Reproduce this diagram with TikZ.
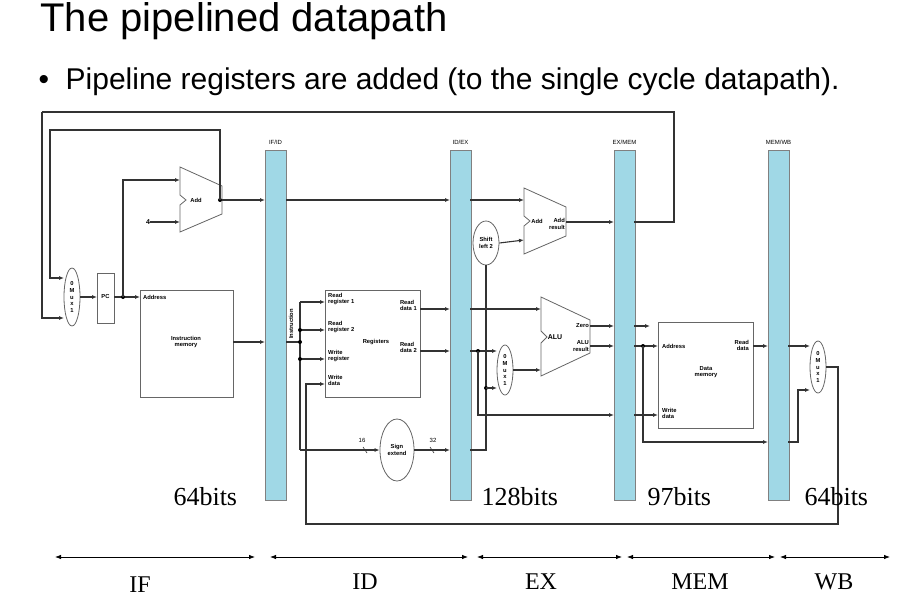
\documentclass[tikz,border=0pt]{standalone}
\usepackage{fontspec}
\setmainfont{Liberation Serif}
\setsansfont{Liberation Sans}
\usetikzlibrary{shapes.geometric,arrows.meta}
\definecolor{regblue}{RGB}{160,216,230}
\begin{document}
\begin{tikzpicture}[x=1pt,y=-1pt,
  w/.style={line width=1.1pt,draw=black!80},
  a/.style={w,-{Latex[length=5pt,width=4pt]}},
  reg/.style={draw=black!50,fill=regblue,line width=0.6pt},
  box/.style={draw=black!60,line width=0.8pt},
  tl/.style={font=\sffamily\bfseries\fontsize{5.8}{6.2}\selectfont,inner sep=0pt,align=left},
  big/.style={font=\fontsize{26}{26}\selectfont},
  dot/.style={circle,fill=black,inner sep=0pt,minimum size=4pt},
  ph/.style={line width=0.8pt,{Latex[length=6pt]}-{Latex[length=6pt]}}]
\useasboundingbox (0,0) rectangle (902,607);
% title
\node[anchor=west,font=\sffamily\fontsize{40}{40}\selectfont] (title) at (37,21) {The pipelined datapath};
\node[anchor=west,font=\sffamily\fontsize{30}{30}\selectfont] (bul) at (35,82) {•\ \ Pipeline registers are added (to the single cycle datapath).};
% pipeline registers
\foreach \n/\x/\l in {ifid/265/IF{/}ID,idex/450/ID{/}EX,exmem/614/EX{/}MEM,memwb/768/MEM{/}WB}{
  \draw[reg] (\x,150) rectangle (\x+21,500);
  \node[tl,font=\sffamily\fontsize{6}{6}\selectfont] (\n) at (\x+10.5,142) {\l};
}
% IF stage
\node[ellipse,box,minimum width=16pt,minimum height=58pt,inner sep=0pt] (mux1) at (72,297) {};
\node[tl,align=center] (mux1t) at (72,297) {0\\[1pt]M\\u\\x\\[1pt]1};
\node[box,minimum width=17pt,minimum height=50pt,inner sep=0pt] (pc) at (105.5,298) {};
\node[tl] (pct) at (105.5,297) {PC};
\draw[box,fill=white] (180,167) -- (222,186) -- (222,214) -- (180,232) -- (180,205) -- (186,200) -- (180,195) -- cycle;
\node[tl] (addt) at (196,200) {Add};
\node[tl,font=\sffamily\bfseries\fontsize{7}{7}\selectfont] (four) at (148,222) {4};
\node[box,minimum width=93pt,minimum height=107pt,inner sep=0pt] (imem) at (186.5,343.5) {};
\node[tl,align=center] (imemt) at (186,342) {Instruction\\memory};
\node[tl,anchor=west] (addr1) at (143,297) {Address};
\coordinate (pcj) at (123,297);
\draw[a] (mux1.east) -- (97,297);
\draw[a] (114,297) -- (140,297);
\node[dot] (d1) at (pcj) {};
\draw[a] (pcj) -- (123,180) -- (180,180);
\draw[a] (four.east) -- (180,222);
\node[dot] (d2) at (220,200) {};
\draw[a] (222,200) -- (265,200);
\draw[a] (220,200) -- (220,130) -- (50,130) -- (50,278) -- (64,278);
\draw[w] (42,112) -- (674,112) -- (674,222) -- (634,222);
\draw[a] (42,112) -- (42,318) -- (64,318);
\draw[a] (233,342) -- (265,342);
% ID stage
\draw[a] (286,200) -- (450,200);
\node[box,minimum width=95pt,minimum height=107pt,inner sep=0pt] (regs) at (372.5,343.5) {};
\node[tl,anchor=north west] (r1) at (328,293) {Read\\register 1};
\node[tl,anchor=north west] (r2) at (328,321) {Read\\register 2};
\node[tl,anchor=north west] (wr) at (328,350) {Write\\register};
\node[tl,anchor=north west] (wd) at (328,375) {Write\\data};
\node[tl] (regt) at (376,342) {Registers};
\node[tl,anchor=north east] (rd1) at (417,300) {Read\\data 1};
\node[tl,anchor=north east] (rd2) at (417,342) {Read\\data 2};
\node[tl,rotate=90] (instr) at (291,324) {Instruction};
\draw[w] (286,342) -- (300,342);
\draw[w] (300,302) -- (300,450);
\draw[a] (300,302) -- (325,302);
\draw[a] (300,330) -- (325,330); \node[dot] at (300,330) {};
\node[dot] at (300,342) {};
\draw[a] (300,359) -- (325,359); \node[dot] at (300,359) {};
\draw[a] (420,309) -- (450,309);
\draw[a] (420,351) -- (450,351);
\node[ellipse,box,minimum width=34pt,minimum height=62pt,inner sep=0pt] (sext) at (397,450) {};
\node[tl,align=center] at (397,450) {Sign\\extend};
\draw[a] (300,450) -- (sext.west);
\draw[a] (sext.east) -- (450,450);
\draw[w,line width=0.6pt] (363,447) -- (367,453); \node[tl,font=\sffamily\fontsize{6}{6}\selectfont] at (362,440) {16};
\draw[w,line width=0.6pt] (430,447) -- (434,453); \node[tl,font=\sffamily\fontsize{6}{6}\selectfont] at (433,440) {32};
% EX stage
\draw[box,fill=white] (524,188) -- (566,207) -- (566,236) -- (524,254) -- (524,226) -- (530,221) -- (524,216) -- cycle;
\node[tl] (addex) at (537,221) {Add};
\node[tl,align=right,anchor=east] (addres) at (565,224) {Add\\result};
\node[ellipse,box,fill=white,minimum width=26pt,minimum height=44pt,inner sep=0pt] (sl2) at (486,243) {};
\node[tl,align=center] at (486,243) {Shift\\left 2};
\draw[a] (470,200) -- (524,200);
\draw[a] (sl2.east) -- (524,240);
\draw[a] (566,222) -- (614,222);
\draw[w] (470,450) -- (486,450) -- (sl2.south);
\draw[box,fill=white] (541,297) -- (590,320) -- (590,353) -- (541,376) -- (541,343) -- (547,337) -- (541,331) -- cycle;
\node[tl,font=\sffamily\bfseries\fontsize{7}{7}\selectfont] (alut) at (555,337) {ALU};
\node[tl,anchor=east] (zero) at (589,326) {Zero};
\node[tl,anchor=east,align=right] (alures) at (589,346) {ALU\\result};
\node[ellipse,box,fill=white,minimum width=16pt,minimum height=50pt,inner sep=0pt] (mux2) at (505,370) {};
\node[tl,align=center] at (505,370) {0\\[1pt]M\\u\\x\\[1pt]1};
\draw[a] (470,309) -- (541,309);
\draw[a] (mux2.east) -- (541,370);
\draw[a] (470,351) -- (497,351);
\node[dot] at (478,351) {};
\draw[a] (478,351) -- (478,415) -- (614,415);
\node[dot] at (486,388) {};
\draw[a] (486,388) -- (497,388);
\draw[a] (590,326) -- (614,326);
\draw[a] (590,346) -- (614,346);
% MEM stage
\draw[a] (634,326) -- (650,326);
\node[box,minimum width=95pt,minimum height=106pt,inner sep=0pt] (dmem) at (705.5,375) {};
\node[tl,anchor=west] (addr2) at (662,346) {Address};
\node[tl,anchor=north west] (wd2) at (662,408) {Write\\data};
\node[tl,anchor=north east,align=right] (rdd) at (749,340) {Read\\data};
\node[tl,align=center] (dmemt) at (706,372) {Data\\memory};
\draw[a] (634,346) -- (658,346);
\node[dot] at (643,346) {};
\draw[a] (643,346) -- (643,442) -- (768,442);
\draw[a] (634,415) -- (658,415);
\draw[a] (753,346) -- (768,346);
% WB stage
\node[ellipse,box,minimum width=16pt,minimum height=52pt,inner sep=0pt] (mux3) at (818,367) {};
\node[tl,align=center] at (818,367) {0\\[1pt]M\\u\\x\\[1pt]1};
\draw[a] (788,346) -- (810,346);
\draw[a] (788,442) -- (798,442) -- (798,390) -- (810,390);
\draw[a] (mux3.east) -- (838,367) -- (838,524) -- (306,524) -- (306,384) -- (325,384);
% bit labels
\node[big,anchor=west] (b1) at (170,497) {64bits};
\node[big,anchor=west] (b2) at (478,497) {128bits};
\node[big,anchor=west] (b3) at (644,497) {97bits};
\node[big,anchor=west] (b4) at (801,497) {64bits};
% phases
\coordinate (p0) at (55,557); \coordinate (p1) at (255,557);
\coordinate (p2) at (270,557); \coordinate (p3) at (468,557);
\coordinate (p4) at (477,557); \coordinate (p5) at (622,557);
\coordinate (p6) at (627,557); \coordinate (p7) at (775,557);
\coordinate (p8) at (780,557); \coordinate (p9) at (890,557);
\draw[ph] (p0) -- (p1); \draw[ph] (p2) -- (p3); \draw[ph] (p4) -- (p5);
\draw[ph] (p6) -- (p7); \draw[ph] (p8) -- (p9);
\node[big,font=\fontsize{24}{24}\selectfont] (sif) at (140,585) {IF};
\node[big,font=\fontsize{24}{24}\selectfont] (sid) at (365,582) {ID};
\node[big,font=\fontsize{24}{24}\selectfont] (sex) at (541,582) {EX};
\node[big,font=\fontsize{24}{24}\selectfont] (smem) at (700,582) {MEM};
\node[big,font=\fontsize{24}{24}\selectfont] (swb) at (834,582) {WB};
\end{tikzpicture}
\end{document}
